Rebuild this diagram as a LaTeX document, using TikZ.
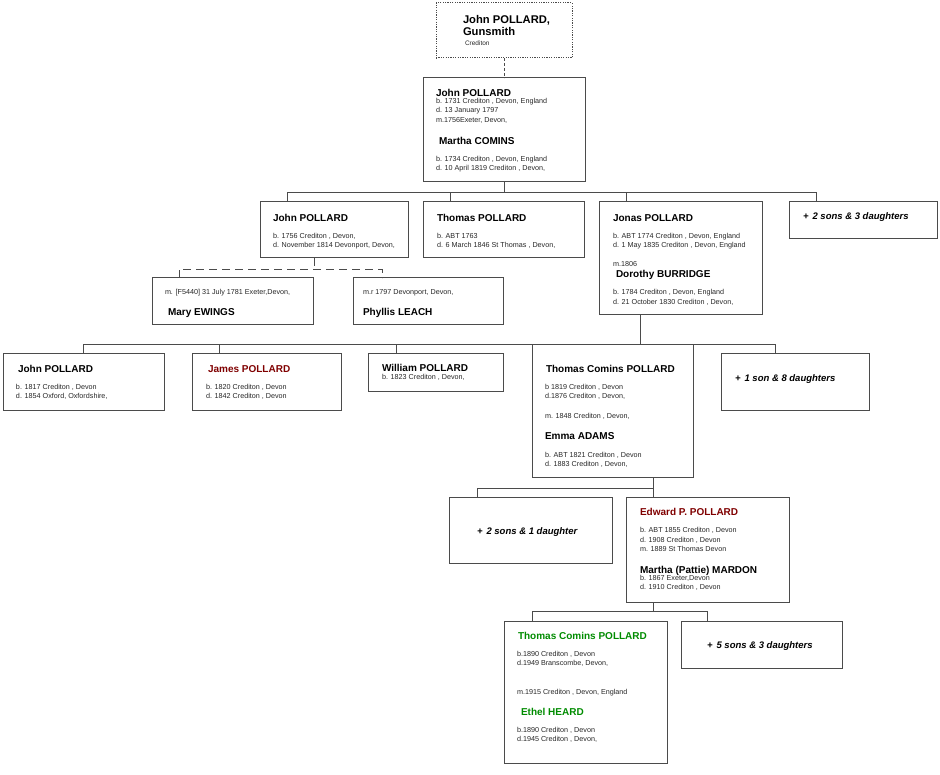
\documentclass[tikz,border=0pt]{standalone}
\usepackage{fontspec}
\setmainfont{Liberation Sans}
\usetikzlibrary{fit}
\definecolor{namered}{RGB}{128,0,0}
\definecolor{namegreen}{RGB}{0,140,0}
\definecolor{linegrey}{RGB}{75,75,75}
\definecolor{detgrey}{RGB}{40,40,40}
\newcounter{tn}
\newcommand\tx[4][]{\stepcounter{tn}\edef\tnm{t\arabic{tn}}\node[txt,#1] (\tnm) at (#2,#3) {#4};}
\begin{document}
\begin{tikzpicture}[x=1pt,y=-1pt,
  box/.style={draw=linegrey,line width=1pt,inner sep=0pt,outer sep=0pt,fill=white},
  conn/.style={draw=linegrey,line width=0.9pt},
  txt/.style={anchor=base west,inner sep=0pt,outer sep=0pt,font=\fontsize{7.2}{8}\selectfont,text=detgrey},
  nm/.style={font=\bfseries\fontsize{10}{12}\selectfont,text=black},
  more/.style={font=\bfseries\itshape\fontsize{9.5}{11}\selectfont,text=black}]
\useasboundingbox (0,0) rectangle (940,775);
\fill[white] (0,0) rectangle (940,775);

% boxes
\node[box,dash pattern=on 1.2pt off 1.2pt,fit={(436,3)(572,58)}] (top) {};
\node[box,fit={(423,78)(585,182)}] (jp) {};
\node[box,fit={(260,202)(408,258)}] (jb) {};
\node[box,fit={(423,202)(584,258)}] (tb) {};
\node[box,fit={(599,202)(762,315)}] (jon) {};
\node[box,fit={(789,202)(937,239)}] (m1) {};
\node[box,fit={(152,278)(313,325)}] (mary) {};
\node[box,fit={(353,278)(503,325)}] (phyl) {};
\node[box,fit={(3,354)(164,411)}] (jo2) {};
\node[box,fit={(192,354)(341,411)}] (jam) {};
\node[box,fit={(368,354)(503,392)}] (wil) {};
\node[box,fit={(532,345)(693,477)}] (tc) {};
\node[box,fit={(721,354)(869,411)}] (m2) {};
\node[box,fit={(449,497)(612,563)}] (m3) {};
\node[box,fit={(626,497)(789,602)}] (edw) {};
\node[box,fit={(504,621)(667,763)}] (tcg) {};
\node[box,fit={(681,621)(842,668)}] (m4) {};

% bus coordinates
\coordinate (bus2) at (0,192);
\coordinate (busw) at (0,269);
\coordinate (bus4) at (0,344);
\coordinate (bus5) at (0,488);
\coordinate (bus6) at (0,611);
% drop points
\coordinate (djb) at (287,202);
\coordinate (dtb) at (450,202);
\coordinate (djon) at (626,202);
\coordinate (dm1) at (816,202);
\coordinate (jbw) at (314,258);
\coordinate (dmary) at (179,278);
\coordinate (dphyl) at (382,278);
\coordinate (jons) at (640,315);
\coordinate (djo2) at (83,354);
\coordinate (djam) at (219,354);
\coordinate (dwil) at (396,354);
\coordinate (dm2) at (775,354);
\coordinate (tcs) at (653,477);
\coordinate (dm3) at (477,497);
\coordinate (dedw) at (653,497);
\coordinate (edws) at (653,602);
\coordinate (dtcg) at (532,621);
\coordinate (dm4) at (707,621);

% connectors
\draw[conn,dash pattern=on 3pt off 2pt] (top.south) -- (jp.north);
\draw[conn] (jp.south) -- (jp.south |- bus2);
\draw[conn] (djb) -- (djb |- bus2) -- (dm1 |- bus2) -- (dm1);
\draw[conn] (dtb) -- (dtb |- bus2);
\draw[conn] (djon) -- (djon |- bus2);
\draw[conn,dash pattern=on 8pt off 5pt] (jbw) -- (jbw |- busw);
\draw[conn,dash pattern=on 8pt off 5pt] (dmary) -- (dmary |- busw) -- (dphyl |- busw) -- (dphyl);
\draw[conn] (jons) -- (jons |- bus4);
\draw[conn] (djo2) -- (djo2 |- bus4) -- (dm2 |- bus4) -- (dm2);
\draw[conn] (djam) -- (djam |- bus4);
\draw[conn] (dwil) -- (dwil |- bus4);
\draw[conn] (tcs) -- (dedw);
\draw[conn] (dm3) -- (dm3 |- bus5) -- (tcs |- bus5);
\draw[conn] (edws) -- (edws |- bus6);
\draw[conn] (dtcg) -- (dtcg |- bus6) -- (dm4 |- bus6) -- (dm4);

% top box
\tx[nm,font=\bfseries\fontsize{11.2}{13}\selectfont]{463}{24}{John POLLARD,}
\tx[nm,font=\bfseries\fontsize{11.2}{13}\selectfont]{463}{36}{Gunsmith}
\tx[font=\fontsize{6.5}{7}\selectfont]{465}{46}{Crediton}

% John & Martha
\tx[nm]{436}{97}{John POLLARD}
\tx{436}{104}{b. 1731 Crediton , Devon, England}
\tx{436}{113}{d. 13 January 1797}
\tx{436}{123}{m.1756Exeter, Devon,}
\tx[nm]{439}{145}{Martha COMINS}
\tx{436}{162}{b. 1734 Crediton , Devon, England}
\tx{436}{171}{d. 10 April 1819 Crediton , Devon,}

% row 2
\tx[nm]{273}{222}{John POLLARD}
\tx{273}{239}{b. 1756 Crediton , Devon,}
\tx{273}{248}{d. November 1814 Devonport, Devon,}
\tx[nm]{437}{222}{Thomas POLLARD}
\tx{437}{239}{b. ABT 1763}
\tx{437}{248}{d. 6 March 1846 St Thomas , Devon,}
\tx[nm]{613}{222}{Jonas POLLARD}
\tx{613}{238.5}{b. ABT 1774 Crediton , Devon, England}
\tx{613}{248}{d. 1 May 1835 Crediton , Devon, England}
\tx{613}{267}{m.1806}
\tx[nm]{616}{278}{Dorothy BURRIDGE}
\tx{613}{295}{b. 1784 Crediton , Devon, England}
\tx{613}{305}{d. 21 October 1830 Crediton , Devon,}
\tx[more]{803}{220}{+\hspace{4pt}2 sons \& 3 daughters}

% wives
\tx{165}{295}{m. [F5440] 31 July 1781 Exeter,Devon,}
\tx[nm]{168}{316}{Mary EWINGS}
\tx{363}{295}{m.r 1797 Devonport, Devon,}
\tx[nm]{363}{316}{Phyllis LEACH}

% row 4
\tx[nm]{18}{373}{John POLLARD}
\tx{16}{390}{b. 1817 Crediton , Devon}
\tx{16}{399}{d. 1854 Oxford, Oxfordshire,}
\tx[nm,text=namered]{208}{373}{James POLLARD}
\tx{206}{390}{b. 1820 Crediton , Devon}
\tx{206}{399}{d. 1842 Crediton , Devon}
\tx[nm]{382}{372}{William POLLARD}
\tx{382}{380}{b. 1823 Crediton , Devon,}
\tx[nm]{546}{373}{Thomas Comins POLLARD}
\tx{545}{390}{b 1819 Crediton , Devon}
\tx{545}{399}{d.1876 Crediton , Devon,}
\tx{545}{419}{m. 1848 Crediton , Devon,}
\tx[nm]{545}{440}{Emma ADAMS}
\tx{545}{457}{b. ABT 1821 Crediton , Devon}
\tx{545}{466}{d. 1883 Crediton , Devon,}
\tx[more]{735}{382}{+\hspace{4pt}1 son \& 8 daughters}

% row 5
\tx[more]{477}{534}{+\hspace{4pt}2 sons \& 1 daughter}
\tx[nm,text=namered]{640}{515}{Edward P. POLLARD}
\tx{640}{532}{b. ABT 1855 Crediton , Devon}
\tx{640}{542}{d. 1908 Crediton , Devon}
\tx{640}{551}{m. 1889 St Thomas Devon}
\tx[nm]{640}{573}{Martha (Pattie) MARDON}
\tx{640}{580}{b. 1867 Exeter,Devon}
\tx{640}{589}{d. 1910 Crediton , Devon}

% row 6
\tx[nm,text=namegreen]{518}{639}{Thomas Comins POLLARD}
\tx{517}{656}{b.1890 Crediton , Devon}
\tx{517}{665}{d.1949 Branscombe, Devon,}
\tx{517}{694}{m.1915 Crediton , Devon, England}
\tx[nm,text=namegreen]{521}{715}{Ethel HEARD}
\tx{517}{732}{b.1890 Crediton , Devon}
\tx{517}{741}{d.1945 Crediton , Devon,}
\tx[more]{707}{648}{+\hspace{4pt}5 sons \& 3 daughters}
\end{tikzpicture}
\end{document}
